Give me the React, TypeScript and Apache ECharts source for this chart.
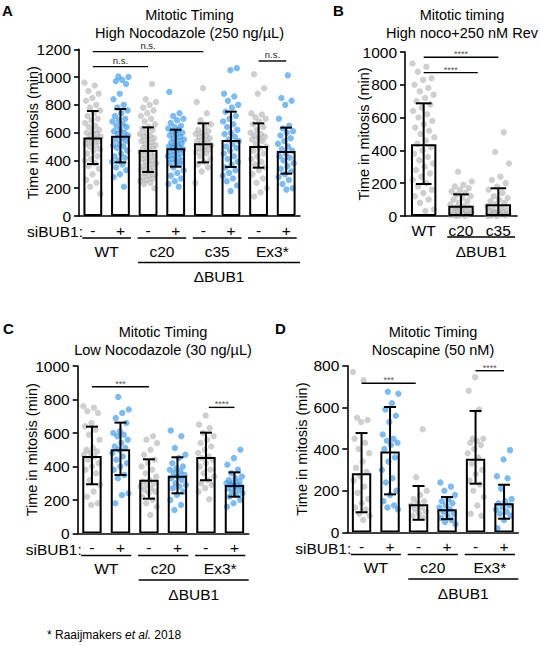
import React, { useEffect, useRef } from "react";
import * as echarts from "echarts";

const FONT = '"Liberation Sans", Arial, Helvetica, sans-serif';
const GRAY = "rgba(160,160,160,0.5)";
const BLUE = "rgba(30,140,235,0.58)";

// ---------- A: High Nocodazole (250 ng/µL) ----------
const aCategories = ["-", "+", "-", "+", "-", "+", "-", "+"];
const aGroups = ["WT", "c20", "c35", "Ex3*"];
const aMean = [565, 578, 475, 487, 523, 547, 504, 468];
const aLow = [374, 386, 317, 355, 386, 353, 348, 305];
const aHigh = [756, 770, 638, 621, 667, 751, 667, 636];
const aPoints = [
  [960, 940, 900, 880, 850, 830, 800, 780, 760, 740, 720, 700, 690, 670, 650, 640, 620, 610, 600, 590, 580, 570, 560, 550, 540, 530, 520, 510, 500, 480, 470, 450, 430, 410, 400, 380, 360, 340, 300, 260, 240, 210, 160],
  [1010, 1000, 980, 970, 950, 880, 840, 800, 780, 760, 740, 720, 700, 690, 680, 660, 650, 640, 620, 610, 600, 590, 580, 560, 550, 540, 520, 510, 500, 490, 470, 450, 430, 420, 400, 390, 370, 350, 330, 300, 280, 210],
  [950, 840, 820, 800, 780, 760, 740, 720, 700, 680, 660, 640, 630, 620, 600, 590, 580, 570, 560, 550, 540, 530, 520, 510, 500, 490, 480, 470, 460, 450, 440, 430, 420, 410, 400, 390, 380, 370, 360, 350, 340, 330, 320, 310, 300, 290, 280, 270, 260, 250, 240, 230, 200],
  [900, 740, 720, 700, 690, 670, 650, 640, 630, 620, 610, 600, 590, 580, 570, 560, 550, 540, 530, 520, 510, 500, 495, 490, 480, 470, 460, 450, 440, 430, 420, 410, 400, 390, 380, 370, 350, 330, 310, 290, 270, 250, 230, 210],
  [920, 820, 740, 690, 660, 640, 620, 610, 600, 590, 580, 570, 560, 550, 540, 530, 520, 510, 500, 490, 480, 470, 460, 450, 430, 410, 390, 370, 350, 320, 240],
  [1070, 1050, 880, 860, 830, 800, 780, 750, 720, 700, 680, 660, 640, 620, 600, 590, 570, 550, 540, 520, 500, 490, 470, 450, 430, 410, 390, 370, 350, 330, 310, 290, 270, 250, 220, 180],
  [1020, 920, 880, 740, 730, 710, 700, 680, 660, 640, 620, 600, 590, 580, 570, 560, 550, 540, 520, 500, 490, 470, 450, 430, 410, 390, 370, 350, 330, 300, 270, 240, 200, 170, 140],
  [1020, 850, 830, 800, 700, 650, 630, 610, 600, 580, 560, 540, 520, 500, 480, 470, 450, 430, 420, 400, 380, 360, 340, 320, 300, 280, 260, 230, 200, 190],
];
const aSig = [
  { from: 0, to: 4, y: 1183, text: "n.s." },
  { from: 0, to: 2, y: 1075, text: "n.s." },
  { from: 6, to: 7, y: 1116, text: "n.s." },
];

// ---------- B: High noco + 250 nM Rev ----------
const bCategories = ["WT", "c20", "c35"];
const bMean = [437, 62, 72];
const bLow = [195, 0, 0];
const bHigh = [687, 132, 169];
const bPoints = [
  [930, 910, 880, 840, 830, 800, 780, 760, 740, 720, 700, 680, 660, 640, 620, 600, 580, 560, 540, 520, 500, 480, 460, 440, 420, 400, 380, 360, 340, 320, 300, 280, 260, 240, 220, 200, 180, 160, 140, 120, 100, 80, 40, 30],
  [270, 210, 190, 180, 170, 160, 150, 140, 130, 120, 110, 100, 90, 80, 70, 60, 50, 50, 40, 40, 30, 30, 20, 20, 10, 10, 5, 5, 0, 0],
  [510, 390, 320, 240, 220, 200, 180, 160, 140, 120, 110, 100, 90, 80, 70, 60, 50, 40, 40, 30, 30, 20, 20, 10, 10, 5, 5, 0, 0],
];
const bSig = [
  { from: 0, to: 2, y: 968, text: "****" },
  { from: 0, to: 1.45, y: 874, text: "****" },
];

// ---------- C: Low Nocodazole (30 ng/µL) ----------
const cCategories = ["-", "+", "-", "+", "-", "+"];
const cGroups = ["WT", "c20", "Ex3*"];
const cMean = [463, 503, 321, 345, 457, 290];
const cLow = [294, 349, 208, 240, 318, 220];
const cHigh = [638, 662, 443, 455, 602, 365];
const cPoints = [
  [760, 750, 730, 720, 660, 640, 620, 590, 560, 510, 500, 490, 480, 470, 460, 440, 420, 400, 380, 360, 320, 290, 250, 220, 180, 170],
  [815, 740, 720, 690, 660, 610, 600, 590, 580, 560, 540, 520, 510, 500, 480, 460, 440, 420, 400, 380, 350, 330, 240, 230, 180],
  [580, 560, 540, 500, 470, 440, 420, 400, 380, 360, 340, 320, 310, 300, 290, 280, 270, 260, 250, 240, 220, 200, 180, 160, 110],
  [615, 580, 510, 470, 450, 420, 400, 390, 380, 370, 360, 350, 340, 330, 320, 300, 290, 280, 270, 250, 230, 200, 170, 140],
  [705, 650, 630, 600, 580, 560, 540, 520, 500, 480, 460, 450, 440, 420, 400, 380, 360, 340, 320, 300, 290, 270, 250, 205],
  [500, 450, 410, 380, 360, 340, 330, 320, 310, 300, 300, 290, 290, 280, 280, 270, 260, 250, 240, 230, 220, 200, 180, 160],
];
const cSig = [
  { from: 0, to: 2, y: 876, text: "***" },
  { from: 4.1, to: 5, y: 753, text: "****" },
];

// ---------- D: Noscapine (50 nM) ----------
const dCategories = ["-", "+", "-", "+", "-", "+"];
const dGroups = ["WT", "c20", "Ex3*"];
const dMean = [284, 389, 135, 111, 354, 140];
const dLow = [97, 183, 61, 64, 234, 66];
const dHigh = [477, 602, 223, 170, 583, 229];
const dPoints = [
  [770, 730, 550, 540, 530, 450, 430, 400, 380, 340, 310, 290, 270, 250, 220, 190, 160, 140, 120, 110, 90, 80, 60],
  [675, 665, 620, 590, 560, 530, 470, 450, 440, 430, 420, 400, 360, 340, 300, 260, 240, 200, 180, 150, 130, 120, 110],
  [495, 265, 200, 180, 160, 150, 140, 130, 120, 110, 100, 90, 80, 70],
  [240, 220, 200, 180, 160, 150, 140, 130, 120, 110, 100, 90, 80, 70, 60, 50, 40],
  [745, 680, 590, 450, 450, 440, 430, 420, 400, 380, 360, 330, 300, 280, 250, 230, 200, 170, 130, 90, 80],
  [395, 350, 270, 260, 210, 160, 150, 140, 130, 120, 110, 100, 90, 80, 60, 20],
];
const dSig = [
  { from: 0, to: 1.9, y: 716, text: "***" },
  { from: 4, to: 5, y: 776, text: "****" },
];

type Sig = { from: number; to: number; y: number; text: string };
type Panel = {
  box: { left: number; top: number; width: number; height: number };
  max: number;
  nameGap: number;
  categories: string[];
  mean: number[];
  low: number[];
  high: number[];
  points: number[][];
  sig: Sig[];
  groups?: string[];
  deltaFrom: number; // first category under the ΔBUB1 bracket
  paired: boolean;
};

const panels: Panel[] = [
  {
    box: { left: 79, top: 49.3, width: 221, height: 166.7 },
    max: 1200, nameGap: 39, categories: aCategories, mean: aMean, low: aLow, high: aHigh,
    points: aPoints, sig: aSig, groups: aGroups, deltaFrom: 2, paired: true,
  },
  {
    box: { left: 405, top: 52, width: 112, height: 164 },
    max: 1000, nameGap: 34, categories: bCategories, mean: bMean, low: bLow, high: bHigh,
    points: bPoints, sig: bSig, deltaFrom: 1, paired: false,
  },
  {
    box: { left: 77.7, top: 366, width: 171, height: 167.5 },
    max: 1000, nameGap: 38, categories: cCategories, mean: cMean, low: cLow, high: cHigh,
    points: cPoints, sig: cSig, groups: cGroups, deltaFrom: 2, paired: true,
  },
  {
    box: { left: 347.3, top: 365.7, width: 171, height: 166.8 },
    max: 800, nameGap: 38, categories: dCategories, mean: dMean, low: dLow, high: dHigh,
    points: dPoints, sig: dSig, groups: dGroups, deltaFrom: 2, paired: true,
  },
];

type Note =
  | { kind: "sig"; from: number; to: number; y: number; text: string }
  | { kind: "line"; from: number; to: number; dy: number }
  | { kind: "text"; at: number; dy: number; text: string; dx?: number; align?: string };

function notesFor(p: Panel): Note[] {
  const notes: Note[] = p.sig.map((s) => ({ kind: "sig", ...s }));
  const n = p.categories.length;
  if (p.paired && p.groups) {
    notes.push({ kind: "text", at: -0.5, dx: 4, dy: 15.5, text: "siBUB1:", align: "right" });
    p.groups.forEach((g, k) => {
      notes.push({ kind: "line", from: 2 * k - 0.38, to: 2 * k + 1.38, dy: 22 });
      notes.push({ kind: "text", at: 2 * k + 0.5, dy: 35, text: g });
    });
    const from = p.deltaFrom - 0.36;
    const to = n - 0.5;
    notes.push({ kind: "line", from, to, dy: 46.5 });
    notes.push({ kind: "text", at: (from + to) / 2, dy: 60.5, text: "ΔBUB1" });
  } else {
    const from = p.deltaFrom - 0.37;
    const to = n - 0.55;
    notes.push({ kind: "line", from, to, dy: 21 });
    notes.push({ kind: "text", at: (from + to) / 2, dy: 35, text: "ΔBUB1" });
  }
  return notes;
}

function buildPanel(p: Panel, idx: number) {
  const grid = { ...p.box, containLabel: false };
  const xAxis = {
    type: "category",
    gridIndex: idx,
    data: p.categories,
    axisLine: { lineStyle: { color: "#000", width: 1.6 } },
    axisTick: { show: false },
    axisLabel: { color: "#000", fontSize: 15.5, fontFamily: FONT, margin: 6, interval: 0 },
  };
  const yAxis = {
    type: "value",
    gridIndex: idx,
    min: 0,
    max: p.max,
    interval: 200,
    name: "Time in mitosis (min)",
    nameLocation: "middle",
    nameRotate: 90,
    nameGap: p.nameGap,
    nameMoveOverlap: false,
    nameTextStyle: { color: "#000", fontSize: 14.5, fontFamily: FONT },
    axisLine: { show: true, lineStyle: { color: "#000", width: 1.6 } },
    axisTick: { show: true, length: 5, lineStyle: { color: "#000", width: 1.6 } },
    axisLabel: { color: "#000", fontSize: 15.5, fontFamily: FONT, margin: 8, formatter: (v: number) => String(v) },
    splitLine: { show: false },
  };

  const colorFor = (c: number) => (p.paired && c % 2 === 1 ? BLUE : GRAY);

  const pointData: number[][] = [];
  p.points.forEach((vals, c) => vals.forEach((v, i) => pointData.push([c, v, i])));

  const notes = notesFor(p);

  const series: any[] = [
    {
      type: "bar",
      xAxisIndex: idx,
      yAxisIndex: idx,
      data: p.mean,
      barWidth: "68%",
      barGap: "-100%",
      itemStyle: { color: "#fff" },
      z: 1,
      silent: true,
    },
    {
      type: "custom",
      xAxisIndex: idx,
      yAxisIndex: idx,
      data: pointData,
      z: 2,
      silent: true,
      renderItem: (_params: any, api: any) => {
        const c = api.value(0);
        const v = api.value(1);
        const i = api.value(2);
        const pt = api.coord([c, v]);
        const bw = api.size([1, 0])[0];
        // spread each column's dots across the bar with a golden-ratio sequence
        const off = (((i * 0.618034 + c * 0.37) % 1) - 0.5) * 0.6 * bw;
        return {
          type: "circle",
          shape: { cx: pt[0] + off, cy: pt[1], r: 3.2 },
          style: { fill: colorFor(c) },
        };
      },
    },
    {
      type: "bar",
      xAxisIndex: idx,
      yAxisIndex: idx,
      data: p.mean,
      barWidth: "68%",
      barGap: "-100%",
      itemStyle: { color: "rgba(0,0,0,0)", borderColor: "#000", borderWidth: 2 },
      z: 3,
      silent: true,
    },
    {
      type: "custom",
      xAxisIndex: idx,
      yAxisIndex: idx,
      data: p.mean.map((_m, c) => [c, p.low[c], p.high[c]]),
      z: 4,
      silent: true,
      renderItem: (_params: any, api: any) => {
        const c = api.value(0);
        const lo = api.value(1);
        const hi = api.value(2);
        const bw = api.size([1, 0])[0];
        const half = bw * 0.21;
        const top = api.coord([c, hi]);
        const bot = api.coord([c, Math.max(lo, 0)]);
        const st = { stroke: "#000", lineWidth: 2 };
        const children: any[] = [
          { type: "line", shape: { x1: top[0], y1: top[1], x2: bot[0], y2: bot[1] }, style: st },
          { type: "line", shape: { x1: top[0] - half, y1: top[1], x2: top[0] + half, y2: top[1] }, style: st },
        ];
        if (lo > 0) {
          children.push({ type: "line", shape: { x1: bot[0] - half, y1: bot[1], x2: bot[0] + half, y2: bot[1] }, style: st });
        }
        return { type: "group", children };
      },
    },
    {
      type: "custom",
      xAxisIndex: idx,
      yAxisIndex: idx,
      data: notes.map(() => [0, 0]),
      z: 5,
      silent: true,
      clip: false,
      renderItem: (params: any, api: any) => {
        const note = notes[params.dataIndex];
        const origin = api.coord([0, 0]);
        const bw = api.size([1, 0])[0];
        const X = (v: number) => origin[0] + v * bw;
        const base = origin[1];
        if (note.kind === "sig") {
          const y = api.coord([0, note.y])[1];
          const x1 = X(note.from);
          const x2 = X(note.to);
          const isStars = note.text.indexOf("*") >= 0;
          return {
            type: "group",
            children: [
              { type: "line", shape: { x1, y1: y, x2, y2: y }, style: { stroke: "#000", lineWidth: 1.4 } },
              {
                type: "text",
                x: (x1 + x2) / 2,
                y: isStars ? y + 1.5 : y - 1.5,
                style: {
                  text: note.text,
                  fill: isStars ? "#555" : "#222",
                  fontSize: isStars ? 9 : 9.5,
                  fontFamily: FONT,
                  align: "center",
                  verticalAlign: "bottom",
                },
              },
            ],
          };
        }
        if (note.kind === "line") {
          return {
            type: "line",
            shape: { x1: X(note.from), y1: base + note.dy, x2: X(note.to), y2: base + note.dy },
            style: { stroke: "#000", lineWidth: 1.4 },
          };
        }
        return {
          type: "text",
          x: X(note.at) + (note.dx || 0),
          y: base + note.dy,
          style: {
            text: note.text,
            fill: "#000",
            fontSize: 15.5,
            fontFamily: FONT,
            align: note.align || "center",
            verticalAlign: "middle",
          },
        };
      },
    },
  ];
  return { grid, xAxis, yAxis, series };
}

const titleStyle = { fill: "#000", fontSize: 14.5, fontFamily: FONT, align: "center", verticalAlign: "middle", lineHeight: 18 };
const letterStyle = { fill: "#000", fontSize: 15, fontWeight: "bold", fontFamily: FONT, align: "left", verticalAlign: "middle" };

export default function App() {
  const ref = useRef<HTMLDivElement>(null);
  useEffect(() => {
    document.body.style.margin = "0";
    if (!ref.current) return;
    const chart = echarts.init(ref.current, undefined, { renderer: "svg" });
    const built = panels.map((p, i) => buildPanel(p, i));
    const titles = [
      { text: "Mitotic Timing\nHigh Nocodazole (250 ng/µL)", x: 189.5, y: 24 },
      { text: "Mitotic timing\nHigh noco+250 nM Rev", x: 462, y: 24 },
      { text: "Mitotic Timing\nLow Nocodazole (30 ng/µL)", x: 163, y: 341 },
      { text: "Mitotic Timing\nNoscapine (50 nM)", x: 433, y: 341 },
    ];
    const letters = [
      { text: "A", x: 2, y: 10 },
      { text: "B", x: 333, y: 10 },
      { text: "C", x: 3, y: 328 },
      { text: "D", x: 275, y: 328 },
    ];
    chart.setOption({
      animation: false,
      backgroundColor: "#fff",
      grid: built.map((b) => b.grid),
      xAxis: built.map((b) => b.xAxis),
      yAxis: built.map((b) => b.yAxis),
      series: built.flatMap((b) => b.series),
      graphic: [
        ...titles.map((t) => ({ type: "text", x: t.x, y: t.y, style: { ...titleStyle, text: t.text } })),
        ...letters.map((t) => ({ type: "text", x: t.x, y: t.y, style: { ...letterStyle, text: t.text } })),
        {
          type: "text",
          x: 47,
          y: 635,
          style: {
            text: "* Raaijmakers {i|et al.} 2018",
            fill: "#000",
            fontSize: 12,
            fontFamily: FONT,
            verticalAlign: "middle",
            rich: { i: { fontStyle: "italic", fontSize: 12, fontFamily: FONT } },
          },
        },
      ],
    });
    return () => chart.dispose();
  }, []);
  return <div ref={ref} style={{ width: 540, height: 646 }} />;
}
